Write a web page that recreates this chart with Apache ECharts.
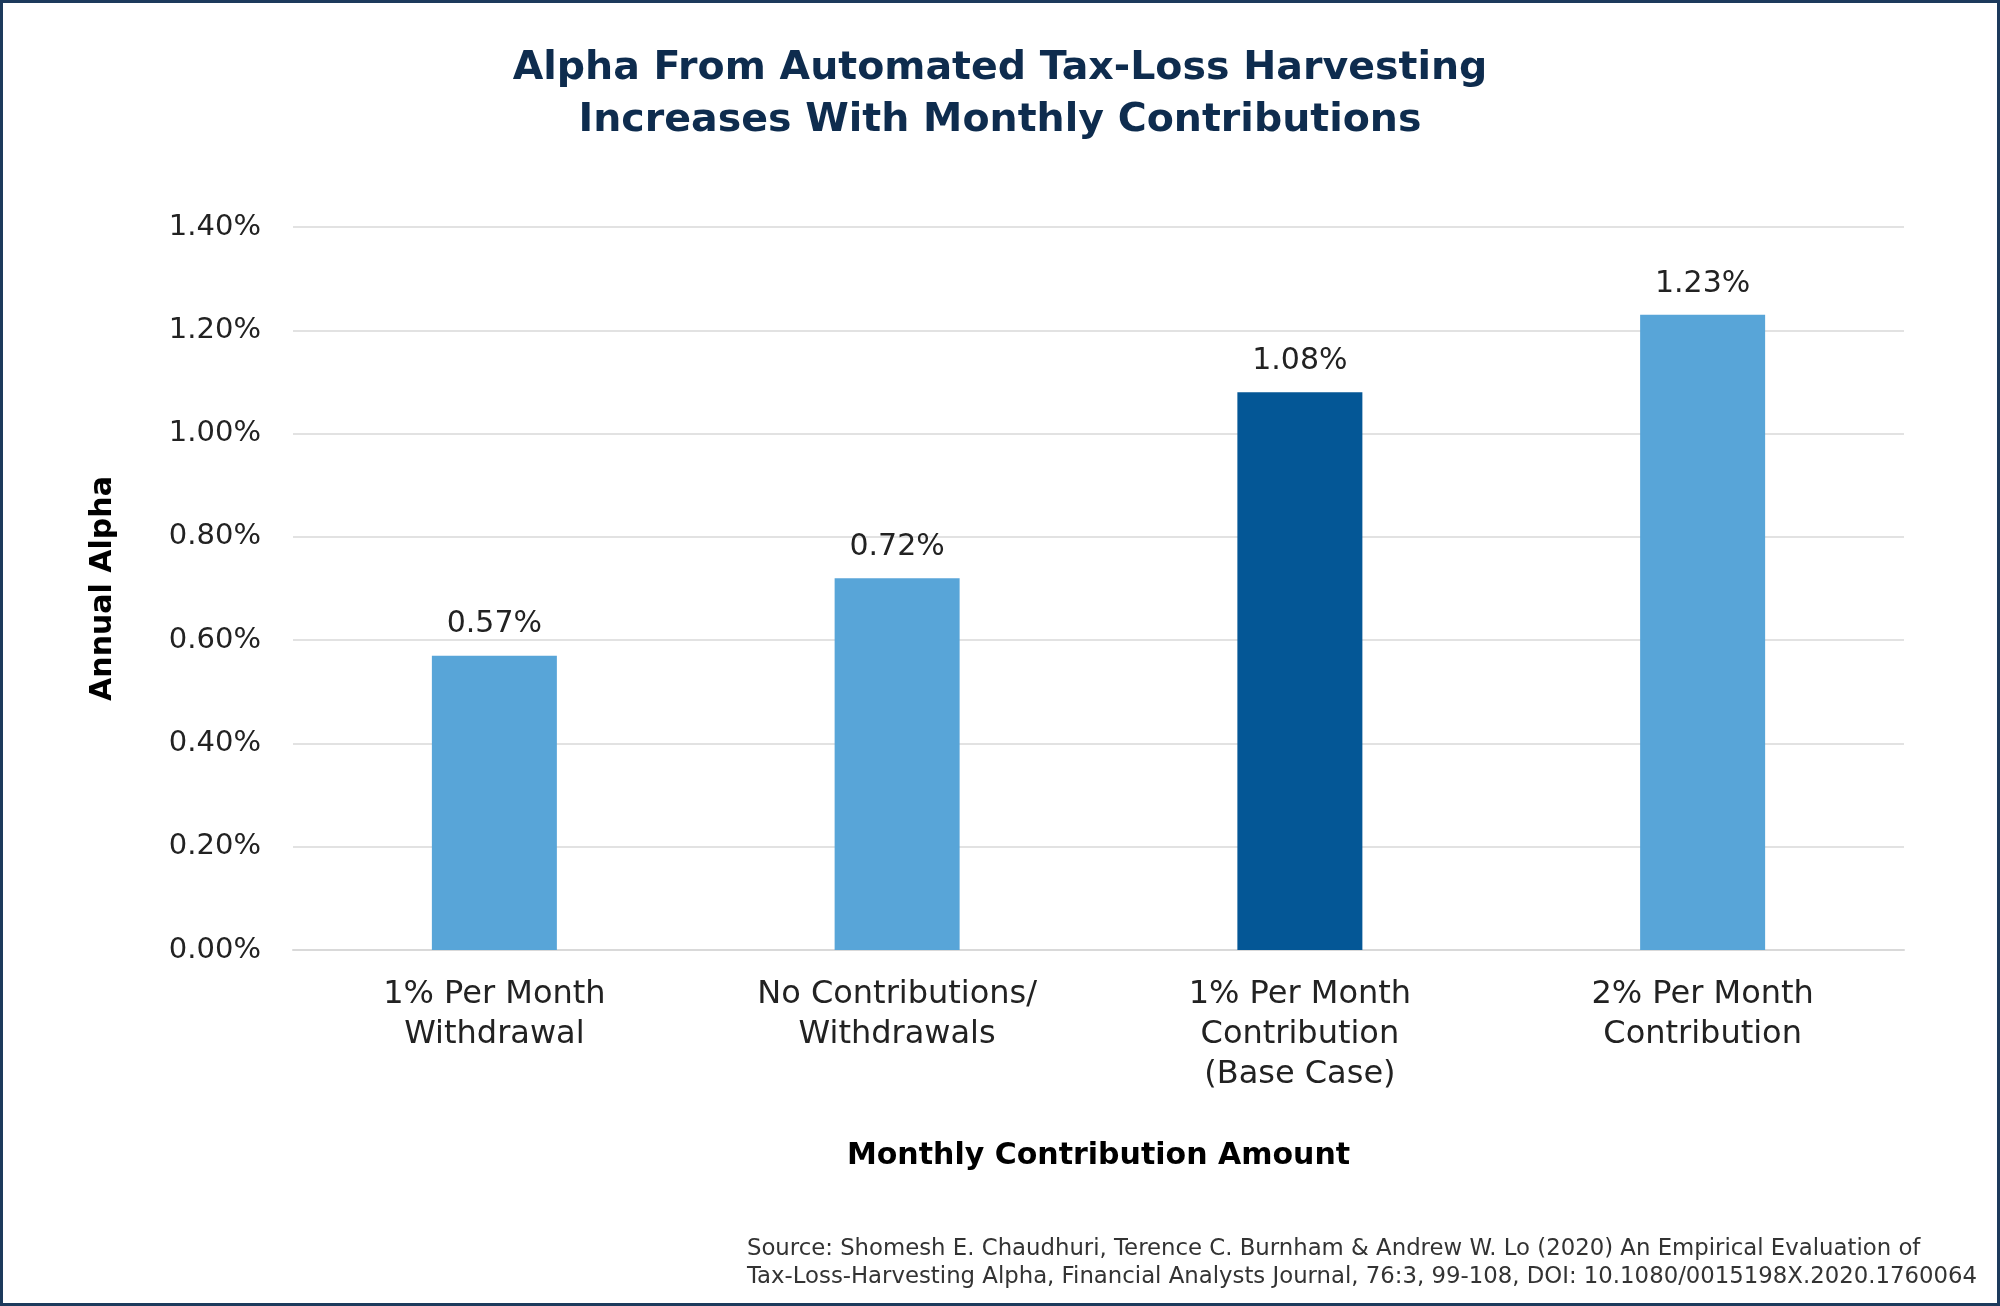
<!DOCTYPE html>
<html>
<head>
<meta charset="utf-8">
<script src="https://cdn.jsdelivr.net/npm/echarts@6/dist/echarts.min.js"></script>
<style>
html,body{margin:0;padding:0;background:#fff;}
#wrap{width:2000px;height:1306px;box-sizing:border-box;border:3px solid #1c3a5c;position:relative;overflow:hidden;}
#chart{position:absolute;left:-3px;top:-3px;width:2000px;height:1306px;}
</style>
</head>
<body>
<div id="wrap"><div id="chart"></div></div>
<script>
const titleText = "Alpha From Automated Tax-Loss Harvesting\nIncreases With Monthly Contributions";
const categories = ["1% Per Month\nWithdrawal", "No Contributions/\nWithdrawals", "1% Per Month\nContribution\n(Base Case)", "2% Per Month\nContribution"];
const values = [0.57, 0.72, 1.08, 1.23];
const barColors = ["#58a5d8", "#58a5d8", "#045796", "#58a5d8"];
const yTicks = [0, 0.2, 0.4, 0.6, 0.8, 1.0, 1.2, 1.4];
const yAxisName = "Annual Alpha";
const xAxisName = "Monthly Contribution Amount";
const sourceText = "Source: Shomesh E. Chaudhuri, Terence C. Burnham & Andrew W. Lo (2020) An Empirical Evaluation of\nTax-Loss-Harvesting Alpha, Financial Analysts Journal, 76:3, 99-108, DOI: 10.1080/0015198X.2020.1760064";

const FONT = '"DejaVu Sans", sans-serif';
const chart = echarts.init(document.getElementById('chart'), null, {renderer: 'canvas'});
chart.setOption({
  backgroundColor: 'transparent',
  animation: false,
  title: {
    text: titleText,
    left: 'center',
    top: 38,
    textStyle: {fontFamily: FONT, fontSize: 39.5, fontWeight: 'bold', color: '#0e2c4e', lineHeight: 52}
  },
  graphic: [{
    type: 'text',
    right: 23,
    top: 1235,
    style: {
      text: sourceText,
      fontFamily: FONT,
      fontSize: 22.8,
      lineHeight: 28,
      fill: '#333333',
      align: 'left'
    }
  }],
  grid: {left: 293, right: 96, top: 227, bottom: 356, containLabel: false},
  xAxis: {
    type: 'category',
    data: categories,
    name: xAxisName,
    nameLocation: 'middle',
    nameGap: 191,
    nameTextStyle: {fontFamily: FONT, fontSize: 30, fontWeight: 'bold', color: '#000'},
    axisLine: {show: true, lineStyle: {color: '#d9d9d9', width: 2}},
    axisTick: {show: false},
    axisLabel: {fontFamily: FONT, fontSize: 32, color: '#222', lineHeight: 40, margin: 25, interval: 0}
  },
  yAxis: {
    type: 'value',
    min: yTicks[0],
    max: yTicks[yTicks.length - 1],
    interval: 0.2,
    name: yAxisName,
    nameLocation: 'middle',
    nameGap: 175,
    nameTextStyle: {fontFamily: FONT, fontSize: 30, fontWeight: 'bold', color: '#000'},
    axisLine: {show: false},
    axisTick: {show: false},
    splitLine: {lineStyle: {color: '#d9d9d9', width: 1.5}},
    axisLabel: {
      fontFamily: FONT, fontSize: 29, color: '#222', margin: 32,
      formatter: v => v.toFixed(2) + '%'
    }
  },
  series: [{
    type: 'bar',
    barWidth: 125,
    data: values.map((v, i) => ({value: v, itemStyle: {color: barColors[i]}})),
    label: {
      show: true,
      position: 'top',
      distance: 16,
      fontFamily: FONT,
      fontSize: 30,
      color: '#222',
      formatter: p => p.value.toFixed(2) + '%'
    }
  }]
});
</script>
</body>
</html>
